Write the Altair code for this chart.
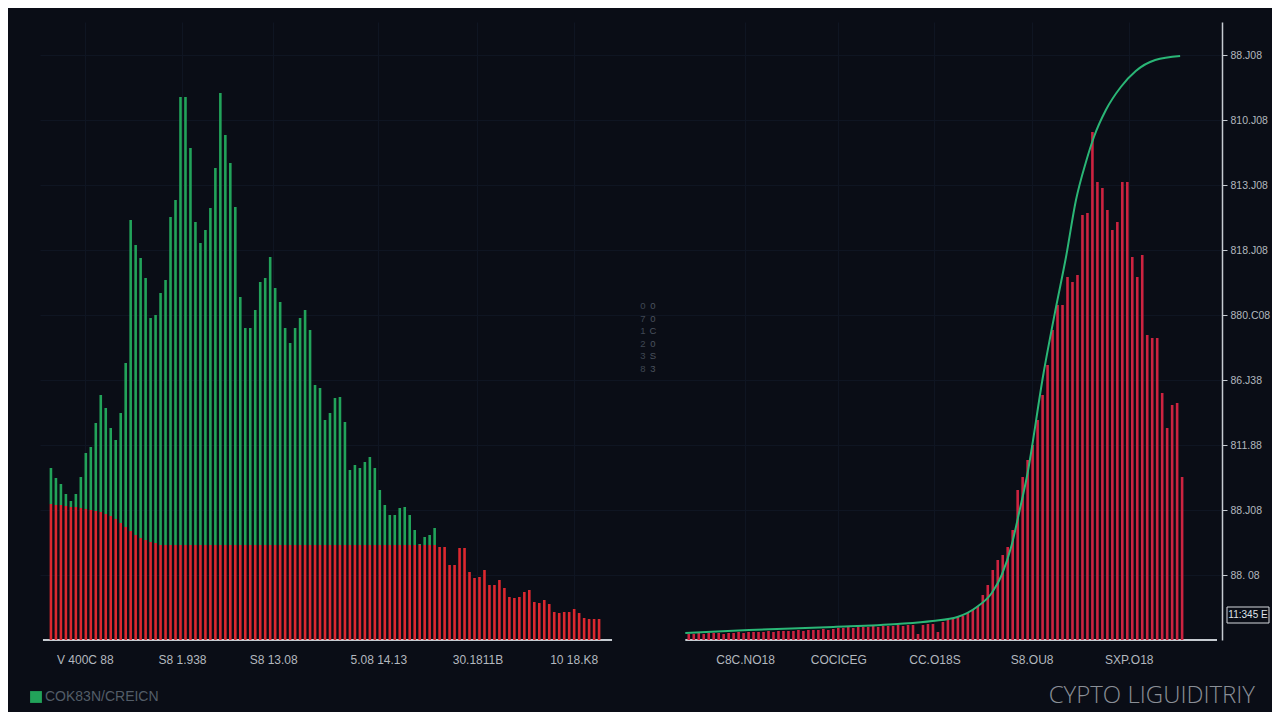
import json
import altair as alt
import pandas as pd

# ---------------- data ----------------
# Left panel: bar slots 0..110, total (green top) and red heights
left_total = [172, 162, 156, 146, 139, 146, 163, 187, 193, 217,
              245, 232, 212, 200, 227, 277, 420, 395, 382, 362,
              322, 325, 347, 360, 423, 440, 543, 543, 492, 418,
              397, 410, 432, 472, 547, 505, 477, 433, 343, 312,
              312, 330, 358, 362, 383, 352, 338, 312, 297, 312,
              322, 330, 310, 255, 252, 220, 227, 242,
              243, 218, 170, 175, 172, 178, 183, 172, 150, 135,
              125, 125, 132, 133, 125, 110, 96, 103, 105, 112] + [None] * 33

left_red = [136, 135, 135, 134, 133, 133, 132, 131, 130, 129,
            128, 126, 124, 121, 117, 113, 109, 105, 102, 100,
            98, 97,
            95, 95, 95, 95, 95, 95, 95, 95, 95, 95,
            95, 95, 95, 95, 95, 95, 95, 95, 95, 95,
            95, 95, 95, 95, 95, 95, 95, 95, 95, 95,
            95, 95, 95, 95, 95, 95, 95, 95, 95, 95,
            95, 95, 95, 95, 95, 95, 95, 95, 95, 95,
            95, 95, 95, 95, 95, 95,
            93, 93, 75, 75, 92, 92, 68, 62, 63, 70,
            55, 55, 60, 52, 43, 42, 43, 48, 50, 38,
            37, 40, 36, 28, 27, 28, 28, 31, 27, 22,
            21, 21, 21]

# Right panel: 100 red bars, starting at slot 128
right_start = 128
right_vals = [6, 6, 7, 6, 7, 7, 7, 6, 7, 7, 8, 7, 8, 8, 8, 8, 9, 8, 9, 9,
              9, 9, 10, 9, 10, 10, 10, 11, 10, 11,
              12, 12, 13, 12, 13, 13, 13, 14, 13, 14, 14, 14, 15, 14, 15,
              15, 6, 15, 16, 16, 8, 18, 20, 21, 23, 24, 27, 30, 34,
              45, 55, 70, 80, 85, 93, 110, 150, 163, 180, 195, 220, 245, 275,
              310, 335, 335, 363, 358, 365, 425, 427, 508, 458, 452, 430,
              410, 418, 458, 458, 383, 363, 385, 305, 302, 302, 247, 212,
              235, 237, 163]

# Green S-curve on the right panel
curve_pos = [127.3, 140.1, 157.0, 169.9, 176.9, 181.9, 185.8, 188.8, 190.8,
             192.8, 194.4, 195.8, 199.2, 201.7, 203.7, 205.7, 207.7, 209.3,
             211.7, 214.7, 217.7, 221.6, 226.6]
curve_val = [7, 10, 13, 16, 19, 23, 33, 47, 65, 95, 130, 162, 267, 333, 383,
             440, 478, 503, 530, 553, 569, 580, 584]

# Axis baselines (slot extents)
base_start = [-1.6, 127.3]
base_end = [112.6, 234.0]

# Tick labels
x_tick_pos = [6.8, 26.3, 44.6, 65.7, 85.6, 104.9, 139.3, 158.0, 177.3, 196.8, 216.3]
x_tick_lab = ["V 400C 88", "S8 1.938", "S8 13.08", "5.08 14.13", "30.1811B", "10 18.K8",
              "C8C.NO18", "COCICEG", "CC.O18S", "S8.OU8", "SXP.O18"]
y_tick_pos = [65, 130, 195, 260, 325, 390, 455, 520, 585]
y_tick_lab = ["88. 08", "88.J08", "811.88", "86.J38", "880.C08", "818.J08",
              "813.J08", "810.J08", "88.J08"]

series_name = "COK83N/CREICN"
title_text = "CYPTO LIGUIDITRIY"
box_label = "11:345 E"
mid_chars_a = ["0", "7", "1", "2", "3", "8"]
mid_chars_b = ["0", "0", "C", "0", "S", "3"]

# ---------------- tables ----------------
left_df = pd.DataFrame({
    "slot": list(range(len(left_red))),
    "red": left_red,
    "total": left_total,
    "series": series_name,
})
right_df = pd.DataFrame({
    "slot": [right_start + j for j in range(len(right_vals))],
    "h": right_vals,
})
curve_df = pd.DataFrame({"slot": curve_pos, "v": curve_val})
base_df = pd.DataFrame({"x": base_start, "x2": base_end})

BG = "#0a0d16"
GREEN = "#22a35a"
RED_L = "#dc282f"
RED_R = "#cd2340"
AXIS = "#c6cbd1"
FONT = "Liberation Sans"

xscale = alt.Scale(domain=[-1.19, 234.0], nice=False, zero=False)
yscale = alt.Scale(domain=[0, 618], nice=False)

x_label_expr = "{}[indexof({}, datum.value)]".format(json.dumps(x_tick_lab), json.dumps(x_tick_pos))
y_label_expr = "{}[indexof({}, datum.value)]".format(json.dumps(y_tick_lab), json.dumps(y_tick_pos))

x_axis = alt.Axis(values=x_tick_pos, labelExpr=x_label_expr, title=None,
                  domain=False, ticks=False, labelColor="#b3b8bf",
                  labelFontSize=12, labelFont=FONT, labelPadding=14,
                  grid=True, gridColor="#0f1522", labelFlush=False)
y_axis = alt.Axis(orient="right", values=y_tick_pos, labelExpr=y_label_expr,
                  title=None, domainColor=AXIS, domainWidth=1.5,
                  tickColor=AXIS, tickSize=5, labelColor="#b3b8bf",
                  labelFontSize=10.5, labelFont=FONT, labelPadding=3,
                  grid=True, gridColor="#0f1522")

BAR_W = 2.6

red_left = alt.Chart(left_df).mark_bar(size=BAR_W, color=RED_L).encode(
    x=alt.X("slot:Q", scale=xscale, axis=x_axis),
    y=alt.Y("red:Q", scale=yscale, axis=y_axis),
)
green_left = alt.Chart(left_df).mark_bar(size=BAR_W).encode(
    x=alt.X("slot:Q", scale=xscale),
    y=alt.Y("total:Q", scale=yscale),
    y2="red:Q",
    color=alt.Color("series:N", scale=alt.Scale(range=[GREEN]),
                    legend=alt.Legend(orient="none", legendX=-11, legendY=668,
                                      title=None, symbolType="square",
                                      symbolSize=140, symbolStrokeWidth=0,
                                      labelColor="#535d68", labelFontSize=14,
                                      labelFont=FONT, padding=0, labelOffset=2)),
)
red_right = alt.Chart(right_df).mark_bar(size=BAR_W, color=RED_R).encode(
    x=alt.X("slot:Q", scale=xscale),
    y=alt.Y("h:Q", scale=yscale),
)
curve = alt.Chart(curve_df).mark_line(interpolate="monotone", color="#2ab676",
                                      strokeWidth=2).encode(
    x=alt.X("slot:Q", scale=xscale),
    y=alt.Y("v:Q", scale=yscale),
)
baselines = alt.Chart(base_df).mark_rule(color=AXIS, strokeWidth=2).encode(
    x=alt.X("x:Q", scale=xscale),
    x2="x2:Q",
    y=alt.datum(0),
)

title_mark = alt.Chart(pd.DataFrame({"t": [title_text]})).mark_text(
    align="right", baseline="middle", fontSize=24, font="Open Sans",
    fontWeight=300, color="#8a8f96"
).encode(text="t:N", x=alt.value(1215), y=alt.value(674))

mid_a = alt.Chart(pd.DataFrame({"t": ["\n".join(mid_chars_a)]})).mark_text(
    fontSize=9.5, font=FONT, color="#3f4753", baseline="top",
    lineBreak="\n", lineHeight=12.5
).encode(text="t:N", x=alt.value(603), y=alt.value(279))
mid_b = alt.Chart(pd.DataFrame({"t": ["\n".join(mid_chars_b)]})).mark_text(
    fontSize=9.5, font=FONT, color="#4a525e", baseline="top",
    lineBreak="\n", lineHeight=12.5
).encode(text="t:N", x=alt.value(613), y=alt.value(279))

box_rect = alt.Chart(pd.DataFrame({"t": [box_label]})).mark_rect(
    fill=BG, stroke="#d4d8dc", strokeWidth=1
).encode(x=alt.value(1187), x2=alt.value(1229), y=alt.value(585), y2=alt.value(601))
box_text = alt.Chart(pd.DataFrame({"t": [box_label]})).mark_text(
    fontSize=10, font=FONT, color="#dfe3e8", baseline="middle"
).encode(text="t:N", x=alt.value(1208), y=alt.value(593))

chart = alt.layer(
    baselines, red_left, green_left, red_right, curve,
    title_mark, mid_a, mid_b, box_rect, box_text
).properties(
    width=1182, height=618,
    autosize=alt.AutoSizeParams(type="none"),
    padding={"left": 32, "top": 14, "right": 50, "bottom": 72},
    background=BG,
).configure_view(stroke=None)

chart.save("out.html", embed_options={"renderer": "svg", "actions": False})
